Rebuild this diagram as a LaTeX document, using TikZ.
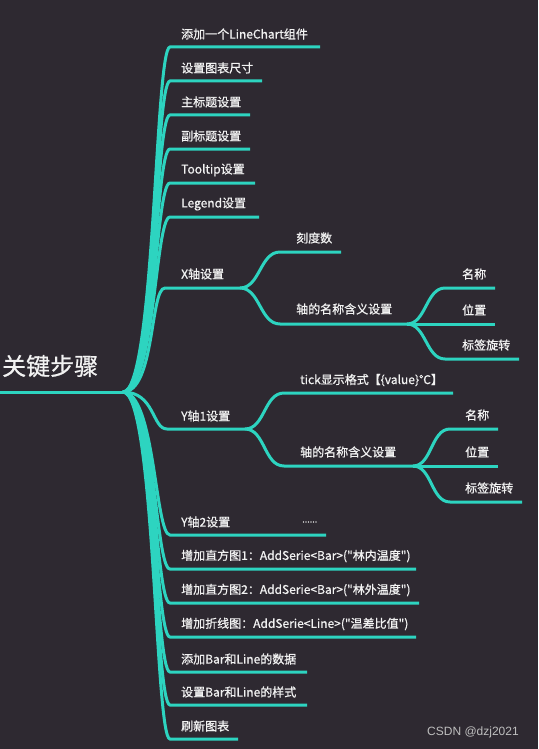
\documentclass[tikz,border=0pt]{standalone}
\usepackage{fontspec}
\setmainfont{Noto Sans CJK SC}[Ligatures=TeXOff,FakeBold=0.8,AutoFakeBold=0.8]
\newfontfamily\markfont{Liberation Sans}

\definecolor{bgcol}{RGB}{46,41,49}
\definecolor{branchcol}{RGB}{45,212,192}
\definecolor{textcol}{RGB}{242,242,242}
\definecolor{markcol}{RGB}{190,190,190}

\begin{document}
\begin{tikzpicture}[x=1pt,y=-1pt,
  branch/.style={draw=branchcol,line width=3pt},
  leaf/.style={anchor=west,text=textcol,inner sep=0pt,font=\fontsize{12}{14}\selectfont\bfseries}]
  \fill[bgcol] (0,0) rectangle (538,749);
  \useasboundingbox (0,0) rectangle (538,749);

  % root
  \node[leaf,font=\fontsize{24}{26}\selectfont] (root) at (2,366) {关键步骤};
  \coordinate (r0) at (0,392);
  \coordinate (r) at (123,392);
  \draw[branch] (r0) -- (r);

  % plain children
  \foreach \y/\e/\t [count=\i] in {47/320/{添加一个LineChart组件},81/262/{设置图表尺寸},
      115/250/{主标题设置},149/250/{副标题设置},183/255/{Tooltip设置},217/259/{Legend设置},
      535/326/{Y轴2设置},569/416/{增加直方图1：AddSerie<Bar>("林内温度")},
      603/419/{增加直方图2：AddSerie<Bar>("林外温度")},637/416/{增加折线图：AddSerie<Line>("温差比值")},
      672/307/{添加Bar和Line的数据},705/307/{设置Bar和Line的样式},739/238/{刷新图表}}{
    \node[leaf] (c\i) at (181,\y-13) {\t};
    \coordinate (s\i) at (170,\y);
    \coordinate (e\i) at (\e,\y);
    \draw[branch] (r) .. controls +(32,0) and +(-15,0) .. (s\i) -- (e\i);
  }
  \node[leaf,font=\fontsize{9}{10}\selectfont] (dots) at (302,522) {......};

  % X axis
  \node[leaf] (xaxis) at (181,274) {X轴设置};
  \coordinate (xs) at (165,288);
  \coordinate (xb) at (240,288);
  \draw[branch] (r) .. controls +(32,0) and +(-15,0) .. (xs) -- (xb);
  \node[leaf] (xtick) at (296,238) {刻度数};
  \coordinate (xts) at (280,252);
  \coordinate (xte) at (341,252);
  \draw[branch] (xb) .. controls +(20,0) and +(-20,0) .. (xts) -- (xte);
  \node[leaf] (xname) at (296,309) {轴的名称含义设置};
  \coordinate (xns) at (280,324);
  \coordinate (xnb) at (407,324);
  \draw[branch] (xb) .. controls +(20,0) and +(-20,0) .. (xns) -- (xnb);
  \foreach \y/\e/\t [count=\i] in {288/495/名称,324/495/位置,359/519/标签旋转}{
    \node[leaf] (xg\i) at (462,\y-14) {\t};
    \coordinate (xgs\i) at (445,\y);
    \coordinate (xge\i) at (\e,\y);
    \draw[branch] (xnb) .. controls +(19,0) and +(-19,0) .. (xgs\i) -- (xge\i);
  }

  % Y axis 1
  \node[leaf] (yaxis) at (181,416) {Y轴1设置};
  \coordinate (ys) at (167,429);
  \coordinate (yb) at (245,429);
  \draw[branch] (r) .. controls +(32,0) and +(-15,0) .. (ys) -- (yb);
  \node[leaf] (ytick) at (300,380) {tick显示格式【\{value\}℃】};
  \coordinate (yts) at (284,393);
  \coordinate (yte) at (453,393);
  \draw[branch] (yb) .. controls +(20,0) and +(-20,0) .. (yts) -- (yte);
  \node[leaf] (yname) at (300,452) {轴的名称含义设置};
  \coordinate (yns) at (284,466);
  \coordinate (ynb) at (413,466);
  \draw[branch] (yb) .. controls +(20,0) and +(-20,0) .. (yns) -- (ynb);
  \foreach \y/\e/\t [count=\i] in {429/498/名称,466/498/位置,502/522/标签旋转}{
    \node[leaf] (yg\i) at (465,\y-14) {\t};
    \coordinate (ygs\i) at (450,\y);
    \coordinate (yge\i) at (\e,\y);
    \draw[branch] (ynb) .. controls +(19,0) and +(-19,0) .. (ygs\i) -- (yge\i);
  }

  \node[anchor=west,text=markcol,inner sep=0pt,font=\markfont\fontsize{12}{14}\selectfont] (mark) at (427,732) {CSDN @dzj2021};
\end{tikzpicture}
\end{document}
